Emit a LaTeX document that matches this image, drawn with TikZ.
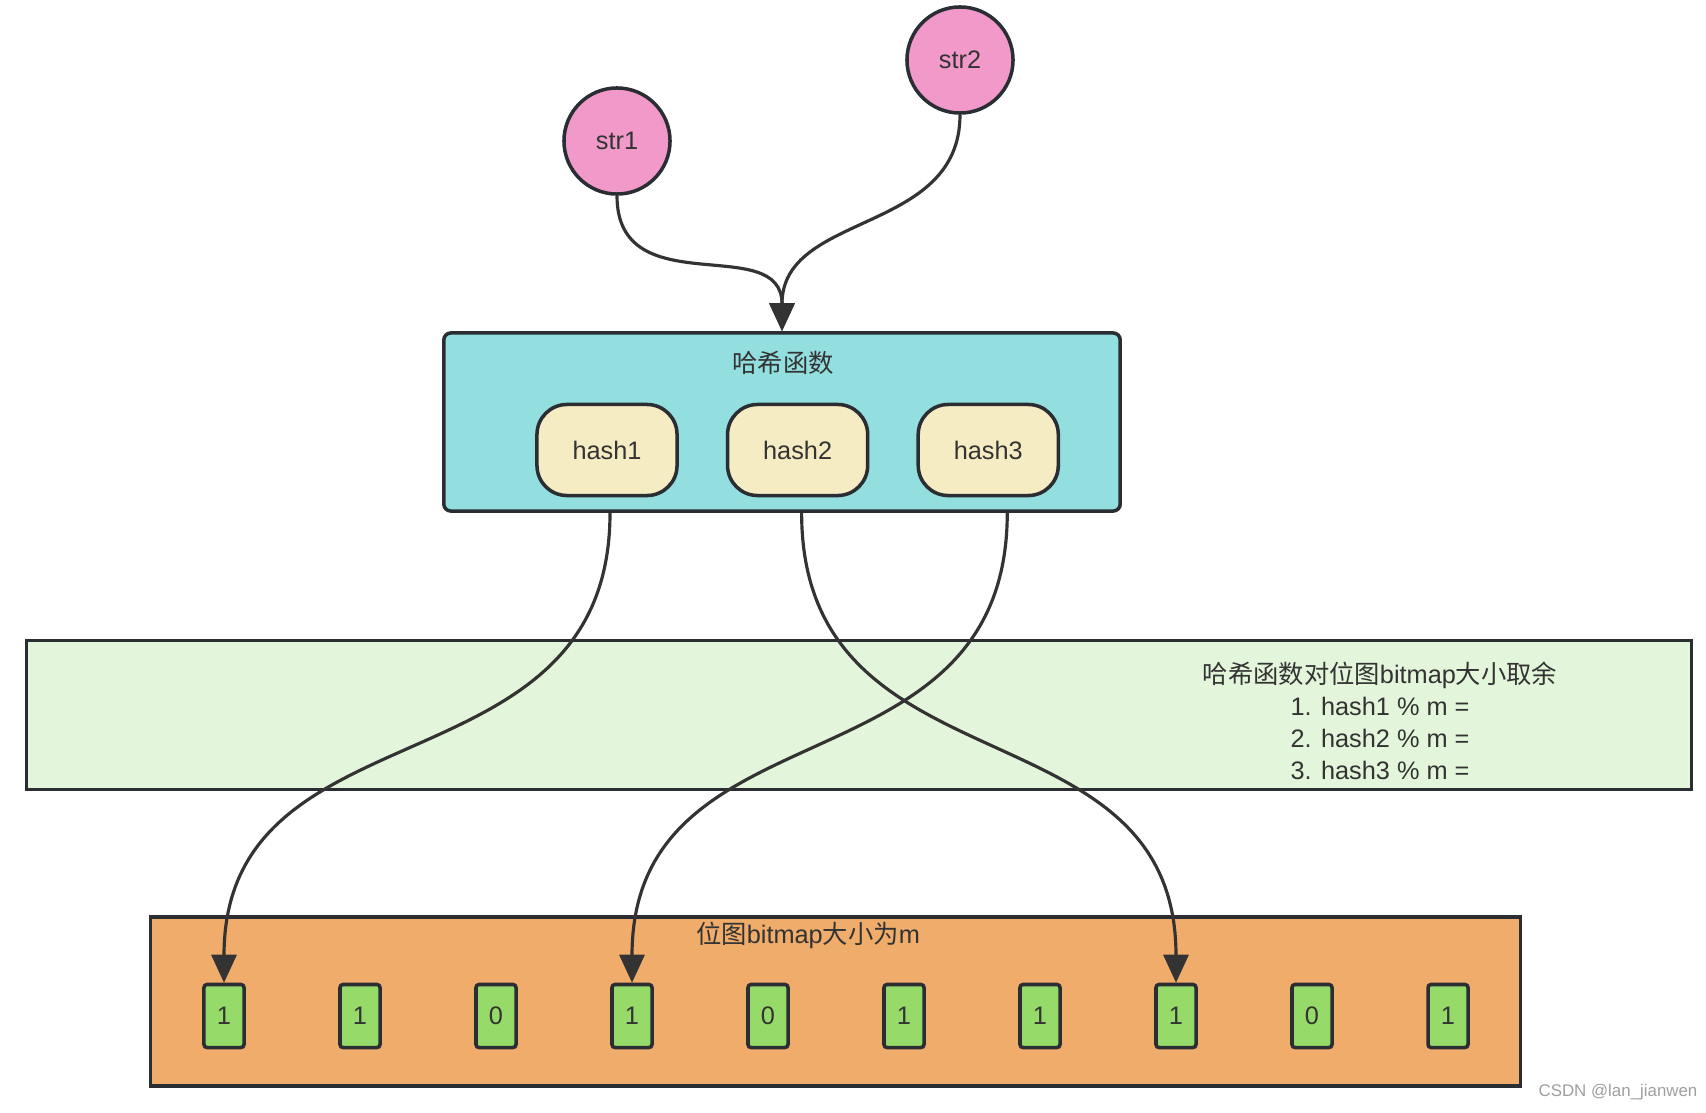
\documentclass[tikz,border=0pt]{standalone}
\usepackage{fontspec}
\setmainfont{Liberation Sans}
\newfontfamily\cjk{Noto Sans CJK SC}
\usetikzlibrary{
    arrows.meta,
    positioning,
    calc,
    backgrounds,
}

\definecolor{edgegray}{HTML}{2A2E33}
\definecolor{linegray}{HTML}{333333}
\definecolor{textgray}{HTML}{333333}
\definecolor{strpink}{HTML}{F19AC9}
\definecolor{functeal}{HTML}{93DFE0}
\definecolor{hashcream}{HTML}{F6ECC3}
\definecolor{modgreen}{HTML}{E3F6DB}
\definecolor{maporange}{HTML}{F0AC6B}
\definecolor{bitgreen}{HTML}{96DB6A}

\begin{document}
\begin{tikzpicture}[
    x=0.01cm, y=-0.01cm,
    font=\fontsize{7.2}{9.1}\selectfont,
    text=textgray,
    >={Triangle[length=2.8mm, width=2.5mm]},
    block/.style={draw=edgegray, line width=1pt, inner sep=0pt, align=center},
    strnode/.style={block, circle, fill=strpink, minimum size=1.06cm},
    funcbox/.style={block, rounded corners=0.7mm, fill=functeal, minimum width=6.76cm, minimum height=1.78cm},
    hashnode/.style={block, rounded corners=3mm, fill=hashcream, minimum width=1.40cm, minimum height=0.91cm},
    modbox/.style={block, fill=modgreen, minimum width=16.64cm, minimum height=1.49cm},
    mapbox/.style={block, fill=maporange, minimum width=13.69cm, minimum height=1.69cm},
    bit/.style={block, rounded corners=0.3mm, fill=bitgreen, minimum width=0.4cm, minimum height=0.63cm},
    link/.style={->, line width=0.9pt, draw=linegray},
]
\useasboundingbox (0,0) rectangle (1706,1112);

% inputs
\node[strnode] at (617,141) (str1) {str1};
\node[strnode] at (960,60) (str2) {str2};

% hash functions
\node[funcbox] at (782,422) (func) {};
\node at (783,363) (functitle) {{\cjk 哈希函数}};
\node[hashnode] at (607,450) (hash1) {hash1};
\node[hashnode, right=0.47cm of hash1] (hash2) {hash2};
\node[hashnode, right=0.47cm of hash2] (hash3) {hash3};

% modulo
\node[modbox] at (859,715) (mod) {};
\node[align=center] at (1380,721) (modtext) {{\cjk 哈希函数对位图}bitmap{\cjk 大小取余}\\
    1. hash1 \% m =\\
    2. hash2 \% m =\\
    3. hash3 \% m =};

% bitmap
\node[mapbox] at (835.5,1001.5) (map) {};
\node at (808,935) (maptitle) {{\cjk 位图}bitmap{\cjk 大小为}m};
\foreach \v [count=\i] in {1,1,0,1,0,1,1,1,0,1}
    \node[bit] at ({88+136*\i},1016) (bit\i) {\v};

\draw[link] (str1.south) .. controls +(0,110) and +(0,-100) .. (func.north);
\draw[link] (str2.south) .. controls +(0,120) and +(0,-120) .. (func.north);
\draw[link] ([xshift=0.03cm]hash1 |- func.south) .. controls +(0,285) and +(0,-285) .. (bit1.north);
\draw[link] ([xshift=0.04cm]hash2 |- func.south) .. controls +(0,285) and +(0,-285) .. (bit8.north);
\draw[link] ([xshift=0.19cm]hash3 |- func.south) .. controls +(0,285) and +(0,-285) .. (bit4.north);

\node[text=gray!75, font=\fontsize{4.8}{6}\selectfont] at (1618,1092) (mark) {CSDN @lan\_jianwen};

\end{tikzpicture}
\end{document}
